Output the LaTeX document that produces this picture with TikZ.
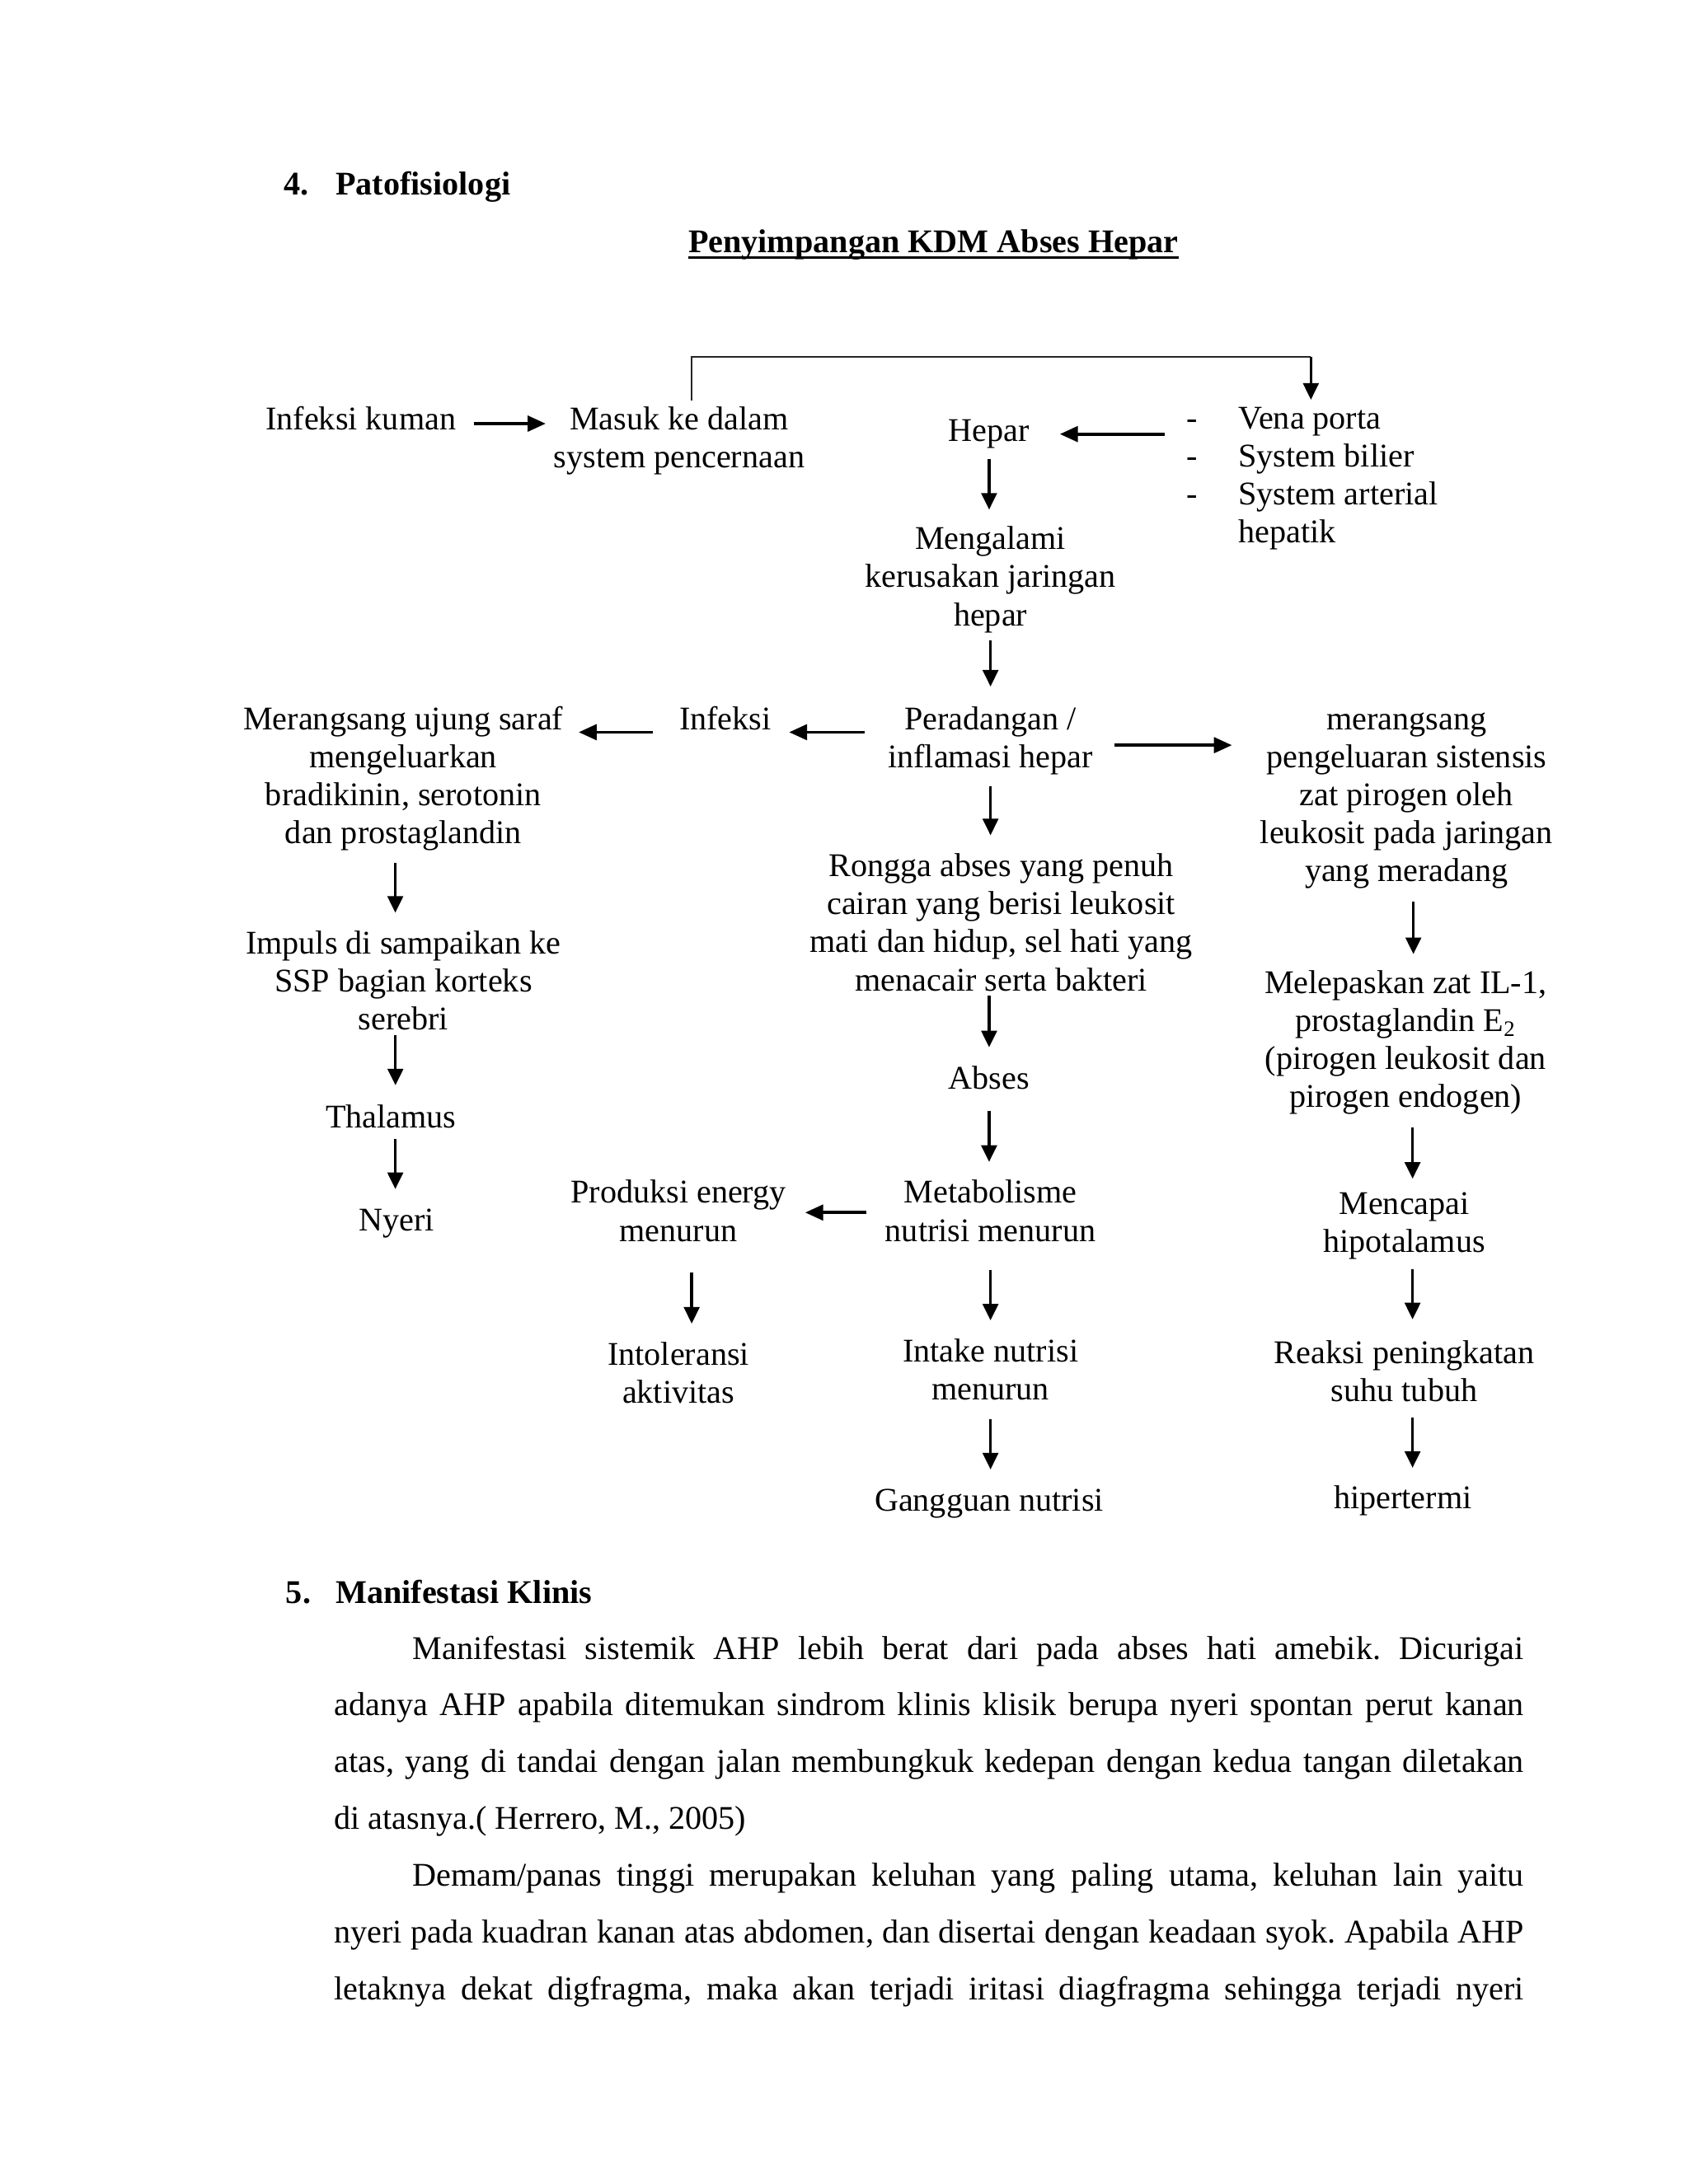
\documentclass[tikz,border=0pt]{standalone}
\usepackage{fontspec}
\setmainfont{Liberation Serif}
\usetikzlibrary{arrows.meta}
\newcommand{\mlines}[1]{\begin{tabular}[t]{@{}c@{}}#1\end{tabular}}
\begin{document}
\begin{tikzpicture}[x={(0.50496pt,0)}, y={(0,-0.50496pt)},
  box/.style={inner sep=0pt, outer sep=0pt, anchor=base, font=\fontsize{12}{13.8}\selectfont},
  hd/.style={inner sep=0pt, outer sep=0pt, anchor=base west, font=\fontsize{12}{13.8}\selectfont\bfseries},
  varrow/.style={line width=1pt, -{Triangle[length=6pt,width=5.6pt]}},
  harrow/.style={line width=1.1pt, -{Triangle[length=6.5pt,width=5.6pt]}},
  link/.style={line width=0.55pt, draw=black!85},
]
\useasboundingbox (0,0) rectangle (1212,1568);

% headings
\node[hd] (h4n) at (204,140) {4.};
\node[hd] (h4t) at (241,140) {Patofisiologi};
\node[hd, anchor=base] (title) at (670,181.5) {Penyimpangan KDM Abses Hepar};
\draw[line width=0.8pt] ([yshift=-1.7pt]title.base west) -- ([yshift=-1.7pt]title.base east);

% top row
\node[box] (infk) at (259,308.7) {\mlines{Infeksi kuman}};
\node[box] (masuk) at (487.5,308.7) {\mlines{Masuk ke dalam\\system pencernaan}};
\node[box] (hepar) at (710,316.6) {\mlines{Hepar}};
\node[box, anchor=base west] (vena) at (852,307.7) {\begin{tabular}[t]{@{}l@{\hspace{14.7pt}}l@{}}-&Vena porta\\-&System bilier\\-&System arterial\\&hepatik\end{tabular}};

\coordinate (topL) at (496.3,256);
\coordinate (topR) at (941,256);

% centre column
\node[box] (meng) at (711,394.5) {\mlines{Mengalami\\kerusakan jaringan\\hepar}};
\node[box] (perad) at (711,523.7) {\mlines{Peradangan /\\inflamasi hepar}};
\node[box] (infeksi) at (520.6,523.7) {\mlines{Infeksi}};
\node[box] (merang) at (289.5,523.7) {\mlines{Merangsang ujung saraf\\mengeluarkan\\bradikinin, serotonin\\dan prostaglandin}};
\node[box] (pirogen) at (1009.6,523.7) {\mlines{merangsang\\pengeluaran sistensis\\zat pirogen oleh\\leukosit pada jaringan\\yang meradang}};
\node[box] (rongga) at (718.7,629.3) {\mlines{Rongga abses yang penuh\\cairan yang berisi leukosit\\mati dan hidup, sel hati yang\\menacair serta bakteri}};
\node[box] (impuls) at (289.6,684.9) {\mlines{Impuls di sampaikan ke\\SSP bagian korteks\\serebri}};
\node[box] (thal) at (280.6,809.8) {\mlines{Thalamus}};
\node[box] (nyeri) at (284.5,883.7) {\mlines{Nyeri}};
\node[box] (lepas) at (1009,713) {\mlines{Melepaskan zat IL-1,\\prostaglandin E\textsubscript{2}\\(pirogen leukosit dan\\pirogen endogen)}};
\node[box] (abses) at (710,781.9) {\mlines{Abses}};
\node[box] (metab) at (711,863.8) {\mlines{Metabolisme\\nutrisi menurun}};
\node[box] (prod) at (487,863.8) {\mlines{Produksi energy\\menurun}};
\node[box] (capai) at (1008,871.9) {\mlines{Mencapai\\hipotalamus}};
\node[box] (intol) at (487,979.9) {\mlines{Intoleransi\\aktivitas}};
\node[box] (intake) at (711,977.6) {\mlines{Intake nutrisi\\menurun}};
\node[box] (reaksi) at (1008,978.8) {\mlines{Reaksi peningkatan\\suhu tubuh}};
\node[box] (gangg) at (710,1084.6) {\mlines{Gangguan nutrisi}};
\node[box] (hiper) at (1007,1083) {\mlines{hipertermi}};

% bracket
\draw[link, shorten <=1pt] (masuk.north -| topL) -- (topL) -- (topR);
\draw[varrow, shorten >=0.8pt] (topR) -- (topR |- vena.north);

% horizontal arrows
\draw[harrow, shorten <=6.4pt, shorten >=2.9pt] ([yshift=2.3pt]infk.base east) -- ([yshift=2.3pt]infk.base east -| masuk.west);
\draw[harrow, shorten <=7.9pt, shorten >=11pt] ([yshift=2.5pt]hepar.base east -| vena.west) -- ([yshift=2.5pt]hepar.base east);
\draw[harrow, shorten <=8.5pt, shorten >=6.5pt] ([yshift=-1pt]infeksi.base east -| perad.west) -- ([yshift=-1pt]infeksi.base east);
\draw[harrow, shorten <=9.5pt, shorten >=5.6pt] ([yshift=-1pt]infeksi.base west) -- ([yshift=-1pt]infeksi.base west -| merang.east);
\draw[harrow, shorten <=7.7pt, shorten >=10.3pt] ([yshift=-5.7pt]perad.base east) -- ([yshift=-5.7pt]perad.base east -| pirogen.west);
\draw[harrow, shorten <=6.7pt, shorten >=6.9pt] ([yshift=-3.4pt]metab.base west) -- ([yshift=-3.4pt]metab.base west -| prod.east);

% vertical arrows
\draw[varrow, shorten <=2.3pt, shorten >=4.8pt] (hepar.south) -- (hepar.south |- meng.north);
\draw[varrow, shorten <=1.3pt, shorten >=5.9pt] (meng.south) -- (meng.south |- perad.north);
\draw[varrow, shorten <=2.5pt, shorten >=5.3pt] (perad.south) -- (perad.south |- rongga.north);
\draw[varrow, shorten <=-2.3pt, shorten >=5.5pt] (abses.north |- rongga.south) -- (abses.north);
\draw[varrow, shorten <=3.9pt, shorten >=5.3pt] (abses.south) -- (abses.south |- metab.north);
\draw[varrow, shorten <=6.2pt, shorten >=5.3pt] (metab.south) -- (metab.south |- intake.north);
\draw[varrow, shorten <=2.8pt, shorten >=5.3pt] (intake.south) -- (intake.south |- gangg.north);
\draw[varrow, shorten <=7.3pt, shorten >=5.3pt] ([xshift=4.8pt]prod.south) -- ([xshift=4.8pt]prod.south |- intol.north);
\draw[varrow, shorten <=2.8pt, shorten >=5.3pt] ([xshift=-2.9pt]merang.south) -- ([xshift=-2.9pt]merang.south |- impuls.north);
\draw[varrow, shorten <=-2.3pt, shorten >=5.8pt] ([xshift=-2.9pt]impuls.south) -- ([xshift=-2.9pt]impuls.south |- thal.north);
\draw[varrow, shorten <=0pt, shorten >=5.5pt] ([xshift=1.6pt]thal.south) -- ([xshift=1.6pt]thal.south |- nyeri.north);
\draw[varrow, shorten <=3.2pt, shorten >=4.5pt] ([xshift=2.5pt]pirogen.south) -- ([xshift=2.5pt]pirogen.south |- lepas.north);
\draw[varrow, shorten <=3.3pt, shorten >=3.3pt] ([xshift=2.5pt]lepas.south) -- ([xshift=2.5pt]lepas.south |- capai.north);
\draw[varrow, shorten <=2pt, shorten >=6.3pt] ([xshift=3pt]capai.south) -- ([xshift=3pt]capai.south |- reaksi.north);
\draw[varrow, shorten <=1.8pt, shorten >=5.1pt] ([xshift=3pt]reaksi.south) -- ([xshift=3pt]reaksi.south |- hiper.north);

% section 5
\node[hd] (h5n) at (205.3,1151) {5.};
\node[hd] (h5t) at (240.9,1151) {Manifestasi Klinis};
\node[inner sep=0pt, outer sep=0pt, anchor=base west] (para) at (240,1191.1) {\begin{minipage}[t]{431.2pt}\fontsize{12}{20.6}\selectfont\frenchspacing\hyphenpenalty=10000\parskip=0pt
\noindent\hspace*{28.35pt}Manifestasi sistemik AHP lebih berat dari pada abses hati amebik. Dicurigai\linebreak
adanya AHP apabila ditemukan sindrom klinis klisik berupa nyeri spontan perut kanan\linebreak
atas, yang di tandai dengan jalan membungkuk kedepan dengan kedua tangan diletakan\linebreak
di atasnya.( Herrero, M., 2005)\par
\noindent\hspace*{28.35pt}Demam/panas tinggi merupakan keluhan yang paling utama, keluhan lain yaitu\linebreak
nyeri pada kuadran kanan atas abdomen, dan disertai dengan keadaan syok. Apabila AHP\linebreak
letaknya dekat digfragma, maka akan terjadi iritasi diagfragma sehingga terjadi nyeri\parfillskip=0pt\par
\end{minipage}};
\end{tikzpicture}
\end{document}
